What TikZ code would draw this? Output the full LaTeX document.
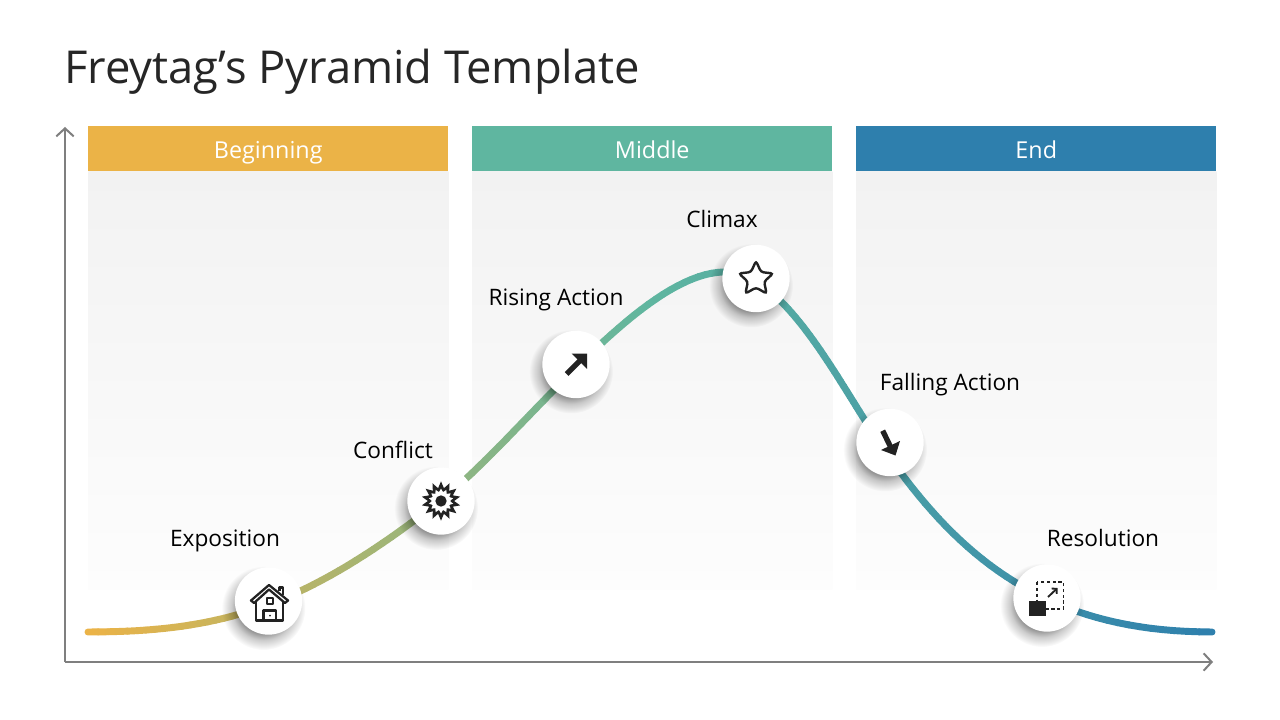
\documentclass[tikz,border=0pt]{standalone}
\usepackage{fontspec}
\setmainfont{Open Sans}
\usetikzlibrary{arrows.meta,shapes.geometric,fadings}

\definecolor{beginyellow}{HTML}{EBB347}
\definecolor{middlegreen}{HTML}{5FB6A0}
\definecolor{endblue}{HTML}{2E7FAD}
\definecolor{axisgray}{HTML}{7F7F7F}
\definecolor{icondark}{HTML}{222222}
\definecolor{titlegray}{HTML}{262626}
\definecolor{panelgray}{HTML}{F2F2F2}
\definecolor{panelend}{HTML}{FDFDFD}

% soft round shadow under the discs
\pgfdeclareradialshading{softshade}{\pgfpointorigin}{%
  color(0bp)=(pgftransparent!58); color(15bp)=(pgftransparent!58);
  color(19bp)=(pgftransparent!80); color(25bp)=(pgftransparent!100);
  color(50bp)=(pgftransparent!100)}
\pgfdeclarefading{softdisc}{\pgfuseshading{softshade}}

\tikzset{
  headbox/.style={anchor=north west,minimum width=270pt,minimum height=33.75pt,inner sep=0pt,text=white,text height=14pt,text depth=0pt,font=\fontsize{17.5}{21}\selectfont},
  panelbox/.style={anchor=north west,minimum width=270pt,minimum height=314pt,inner sep=0pt,top color=panelgray,bottom color=panelend},
  stagedisc/.style={circle,fill=white,minimum size=50.5pt,inner sep=0pt},
  stagelabel/.style={text=black,inner sep=0pt,text height=13pt,text depth=1pt,font=\fontsize{17}{21}\selectfont},
  iconline/.style={draw=icondark,line width=1.7pt,line join=round},
  axisline/.style={draw=axisgray,line width=1.5pt,-{Straight Barb[length=6pt,width=13pt,line width=1.5pt]}}
}

% one cubic piece of the curve, in short strokes, colour follows x
\newcommand{\curveseg}[8]{%
  \foreach \i in {1,...,40}{%
    \pgfmathsetmacro{\ta}{(\i-1)/40}
    \pgfmathsetmacro{\tb}{\i/40}
    \pgfmathsetmacro{\xa}{bez(\ta,#1,#3,#5,#7)}
    \pgfmathsetmacro{\ya}{bez(\ta,#2,#4,#6,#8)}
    \pgfmathsetmacro{\xb}{bez(\tb,#1,#3,#5,#7)}
    \pgfmathsetmacro{\yb}{bez(\tb,#2,#4,#6,#8)}
    \pgfmathsetmacro{\pa}{max(0,min(100,(\xa-88)/5.62))}
    \pgfmathsetmacro{\pb}{max(0,min(100,(\xa-650)/5.62))}
    \ifdim\xa pt<650pt
      \colorlet{segcolor}{middlegreen!\pa!beginyellow}
    \else
      \colorlet{segcolor}{endblue!\pb!middlegreen}
    \fi
    \draw[segcolor,line width=5.2pt,line cap=round] (\xa,\ya) -- (\xb,\yb);
  }%
}

% disc with its shadow
\newcommand{\stagenode}[3]{%
  \fill[black,path fading=softdisc] (#2-5,#3+7) circle (42);
  \node[stagedisc] (#1) at (#2,#3) {};
}

\begin{document}
\begin{tikzpicture}[x=0.75pt,y=-0.75pt,
  declare function={bez(\t,\a,\b,\c,\d)=(1-\t)^3*\a+3*(1-\t)^2*\t*\b+3*(1-\t)*\t^2*\c+\t^3*\d;}]

\useasboundingbox (0,0) rectangle (1280,720);
\fill[white] (0,0) rectangle (1280,720);

\node[anchor=base west,inner sep=0pt,text=titlegray,font=\fontsize{34}{40}\selectfont] (title) at (64,84) {Freytag’s Pyramid Template};

% panels
\node[panelbox] (beginpanel) at (88,171) {};
\node[panelbox] (middlepanel) at (472,171) {};
\node[panelbox] (endpanel) at (856,171) {};
\node[headbox,fill=beginyellow] (beginhead) at (88,126) {Beginning};
\node[headbox,fill=middlegreen] (middlehead) at (472,126) {Middle};
\node[headbox,fill=endblue] (endhead) at (856,126) {End};

% axes
\coordinate (origin) at (65,662);
\coordinate (ytop) at (65,127);
\coordinate (xend) at (1213,662);
\draw[axisline] (origin) -- (ytop);
\draw[axisline] (origin) -- (xend);

% curve
\curveseg{88}{632}{225}{632}{305}{606}{440}{501}
\curveseg{440}{501}{520}{439}{640}{272}{725}{272}
\curveseg{725}{272}{780}{272}{830}{366}{868}{425}
\curveseg{868}{425}{950}{553}{1040}{632}{1212}{632}

% discs
\stagenode{exposition}{268.5}{601}
\stagenode{conflict}{441}{501}
\stagenode{rising}{576}{364.5}
\stagenode{climax}{756}{278.5}
\stagenode{falling}{890}{442.5}
\stagenode{resolution}{1047}{598}

% house
\draw[iconline] (251,600.5) -- (269,585) -- (288,600.5) -- (285,603) -- (269,589.5) -- (254,603) -- cycle;
\draw[iconline] (256,602) -- (256,620.5) -- (283,620.5) -- (283,602);
\draw[iconline] (279.5,591) -- (279.5,587.5) -- (283,587.5) -- (283,595);
\draw[iconline] (267,598) rectangle (273,604);
\draw[iconline] (263.5,620.5) -- (263.5,610.5) -- (276,610.5) -- (276,620.5);
\fill[icondark] (270,615.5) circle (1);

% burst
\node[star,star points=14,star point ratio=1.5,fill=icondark,minimum size=29.5pt,inner sep=0pt] (burstout) at (441,501) {};
\node[star,star points=14,star point ratio=1.35,fill=white,minimum size=18.5pt,inner sep=0pt] (burstin) at (441,501) {};
\node[circle,fill=icondark,minimum size=8.5pt,inner sep=0pt] (burstdot) at (441,501) {};

% arrows
\draw[icondark,line width=4pt] (566.7,374) -- (584,356.7);
\fill[icondark] (571.7,353.5) -- (587,353.5) -- (587,368.8) -- cycle;
\draw[icondark,line width=4pt] (882.7,430.7) -- (893,452);
\fill[icondark] (881,450) -- (895.5,455.5) -- (900,441) -- cycle;

% star
\node[star,star points=5,star point ratio=2.1,draw=icondark,line width=1.8pt,rounded corners=2pt,minimum size=27pt,inner sep=0pt] (staricon) at (756,279) {};

% dashed box
\draw[icondark,line width=1.4pt,dash pattern=on 2.6pt off 1.8pt] (1037,582) rectangle (1063.5,609);
\fill[icondark] (1029.3,600.5) rectangle (1046,616);
\draw[icondark,line width=1.4pt,-{Straight Barb[length=2.5pt,width=5.5pt]}] (1048,597) -- (1057.5,588);

% labels
\node[stagelabel] (explabel) at (225,538) {Exposition};
\node[stagelabel] (conlabel) at (393,450) {Conflict};
\node[stagelabel] (rislabel) at (556,297) {Rising Action};
\node[stagelabel] (clilabel) at (722,220) {Climax};
\node[stagelabel] (fallabel) at (950,382) {Falling Action};
\node[stagelabel] (reslabel) at (1103,538) {Resolution};

\end{tikzpicture}
\end{document}
